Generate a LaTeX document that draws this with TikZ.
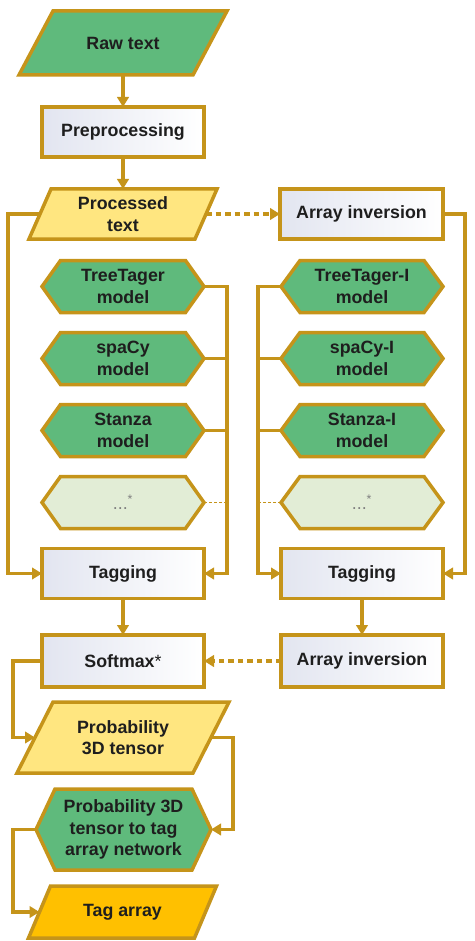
\documentclass[tikz,border=0pt]{standalone}
\usepackage{fontspec}
\setmainfont{Liberation Sans}
\usetikzlibrary{arrows.meta,calc}
\definecolor{bord}{RGB}{197,148,26}
\definecolor{grn}{RGB}{95,186,124}
\definecolor{ylw}{RGB}{255,230,128}
\definecolor{org}{RGB}{255,192,0}
\definecolor{lgrn}{RGB}{226,237,214}
\definecolor{rgray}{RGB}{226,229,240}
\definecolor{txtc}{RGB}{30,30,30}
\tikzset{
  border/.style={draw=bord, line width=3.5pt, line join=miter},
  txt/.style={align=center, inner sep=0pt, outer sep=0pt, text=txtc,
    font=\bfseries\fontsize{17.8}{21.7}\selectfont},
  rbox/.style={txt, border, left color=rgray, right color=white,
    minimum width=162pt, minimum height=50pt},
  conn/.style={draw=bord, line width=3.1pt},
  arr/.style={conn, -{Triangle[length=10pt,width=11.5pt]}},
  darr/.style={arr, dash pattern=on 5.5pt off 4pt},
  dotl/.style={draw=bord, line width=1.4pt, dash pattern=on 3pt off 2pt}
}
% name cx cy halfwidth halfheight slant fill text
\newcommand\paraShape[8]{%
  \draw[border, fill=#7] ({#2-#4+#6/2},{#3-#5}) -- ({#2+#4+#6/2},{#3-#5})
    -- ({#2+#4-#6/2},{#3+#5}) -- ({#2-#4-#6/2},{#3+#5}) -- cycle;
  \node[txt] (#1) at (#2,#3) {#8};
  \coordinate (#1-l) at ({#2-#4},#3);
  \coordinate (#1-r) at ({#2+#4},#3);
}
% name cx cy halfwidth halfheight tipdx fill text
\newcommand\hexShape[8]{%
  \draw[border, fill=#7] ({#2-#4},#3) -- ({#2-#4+#6},{#3-#5}) -- ({#2+#4-#6},{#3-#5})
    -- ({#2+#4},#3) -- ({#2+#4-#6},{#3+#5}) -- ({#2-#4+#6},{#3+#5}) -- cycle;
  \node[txt] (#1) at (#2,#3) {#8};
  \coordinate (#1-l) at ({#2-#4},#3);
  \coordinate (#1-r) at ({#2+#4},#3);
}
\begin{document}
\begin{tikzpicture}[x=1pt, y=-1pt]
\useasboundingbox (0,0) rectangle (474,941);
% shapes
\paraShape{raw}{123}{43}{87}{32}{34}{grn}{Raw text}
\node[rbox] (pre) at (123,132) {Preprocessing};
\paraShape{proc}{123}{214}{83}{25}{22}{ylw}{Processed\\text}
\node[rbox, minimum width=163pt] (inv1) at (361.5,214) {Array inversion};

\hexShape{tt}{123}{286.5}{81}{26}{18.5}{grn}{TreeTager\\model}
\hexShape{sp}{123}{358.5}{81}{26}{18.5}{grn}{spaCy\\model}
\hexShape{st}{123}{430.5}{81}{26}{18.5}{grn}{Stanza\\model}
\hexShape{dl}{123}{502.5}{81}{26}{18.5}{lgrn}{\mdseries\color{gray}...\textsuperscript{*}}
\hexShape{tti}{362}{286.5}{81}{26}{19}{grn}{TreeTager-I\\model}
\hexShape{spi}{362}{358.5}{81}{26}{19}{grn}{spaCy-I\\model}
\hexShape{sti}{362}{430.5}{81}{26}{19}{grn}{Stanza-I\\model}
\hexShape{dr}{362}{502.5}{81}{26}{19}{lgrn}{\mdseries\color{gray}...\textsuperscript{*}}

\node[rbox] (tagl) at (123,573.5) {Tagging};
\node[rbox] (tagr) at (362,573.5) {Tagging};
\node[rbox, minimum height=52pt] (soft) at (123,661) {Softmax\mdseries*};
\node[rbox, minimum height=52pt] (inv2) at (362,661) {Array inversion};

\paraShape{prob}{123}{737.5}{88}{35.5}{36}{ylw}{Probability\\3D tensor}
\hexShape{net}{123.5}{829.5}{87.5}{40.5}{19}{grn}{Probability 3D\\tensor to tag\\array network}
\paraShape{tag}{122.5}{912}{83}{26}{22}{org}{Tag array}

% connectors
\draw[arr] (raw.south |- 0,75) -- (pre.north);
\draw[arr] (pre.south) -- (proc.south |- 0,189);
\draw[darr] (proc-r) -- (inv1.west);
\draw[arr] (proc-l) -- (8,214) -- (8,573.5) -- (tagl.west);
\draw[arr] (inv1.east) -- (465,214) -- (465,573.5) -- (tagr.east);

\draw[conn] (sp-r) -- (227,358.5);
\draw[conn] (st-r) -- (227,430.5);
\draw[dotl] (dl-r) -- (227,502.5);
\draw[arr] (tt-r) -- (227,286.5) -- (227,573.5) -- (tagl.east);

\draw[conn] (spi-l) -- (258,358.5);
\draw[conn] (sti-l) -- (258,430.5);
\draw[dotl] (dr-l) -- (258,502.5);
\draw[arr] (tti-l) -- (258,286.5) -- (258,573.5) -- (tagr.west);

\draw[arr] (tagl.south) -- (soft.north);
\draw[arr] (tagr.south) -- (inv2.north);
\draw[darr] (inv2.west) -- (soft.east);

\draw[arr] (soft.west) -- (13,661) -- (13,737.5) -- (prob-l);
\draw[arr] (prob-r) -- (233,737.5) -- (233,829.5) -- (net-r);
\draw[arr] (net-l) -- (13,829.5) -- (13,912) -- (tag-l);
\end{tikzpicture}
\end{document}
